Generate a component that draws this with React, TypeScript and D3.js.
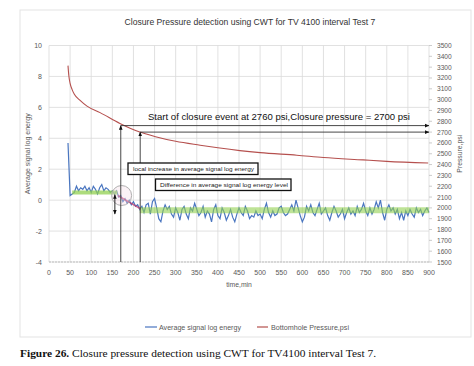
import React from "react";
import * as d3 from "d3";

const title = "Closure Pressure detection using CWT for TV 4100 interval Test 7";
const xTicks = [0, 50, 100, 150, 200, 250, 300, 350, 400, 450, 500, 550, 600, 650, 700, 750, 800, 850, 900];
const leftTicks = [-4, -2, 0, 2, 4, 6, 8, 10];
const rightTicks = [1500, 1600, 1700, 1800, 1900, 2000, 2100, 2200, 2300, 2400, 2500, 2600, 2700, 2800, 2900, 3000, 3100, 3200, 3300, 3400, 3500];

const signalTime = [
  45, 50, 55, 60, 65, 70, 75, 80, 85, 90, 95, 100, 105, 110, 115, 120, 125, 130, 135, 140, 145, 150, 155, 160, 165, 170,
  175, 180, 185, 190, 195, 200, 205, 210, 215, 220, 225, 230, 235, 240, 245, 250, 255, 260, 265, 270, 275, 280, 285, 290,
  295, 300, 305, 310, 315, 320, 325, 330, 335, 340, 345, 350, 355, 360, 365, 370, 375, 380, 385, 390, 395, 400, 405, 410,
  415, 420, 425, 430, 435, 440, 445, 450, 455, 460, 465, 470, 475, 480, 485, 490, 495, 500, 505, 510, 515, 520, 525, 530,
  535, 540, 545, 550, 555, 560, 565, 570, 575, 580, 585, 590, 595, 600, 605, 610, 615, 620, 625, 630, 635, 640, 645, 650,
  655, 660, 665, 670, 675, 680, 685, 690, 695, 700, 705, 710, 715, 720, 725, 730, 735, 740, 745, 750, 755, 760, 765, 770,
  775, 780, 785, 790, 795, 800, 805, 810, 815, 820, 825, 830, 835, 840, 845, 850, 855, 860, 865, 870, 875, 880, 885, 890,
  895, 900,
];
const signalEnergy = [
  3.7, 0.3, 0.4, 0.5, 0.9, 0.6, 0.8, 0.7, 0.9, 0.6, 0.8, 0.5, 0.9, 0.7, 0.4, 0.8, 1.0, 0.6, 0.8, 0.7, 0.5, 0.6, 0.4, 0.6, 0.2, 0.3,
  -0.1, 0.1, -0.2, 0.0, -0.3, -0.1, -0.4, -0.3, -0.6, -0.4, -0.8, -0.3, -0.2, -0.9, -0.1, 0.1, -0.5, -1.2, -1.4, -0.7, -0.3, -0.6, -0.4, -0.9,
  -1.1, -0.5, -0.8, -1.3, -0.6, -0.4, -0.9, -1.2, -0.5, -0.7, -0.2, -0.6, -1.0, -0.8, -0.4, -1.1, -0.7, -0.9, -1.4, -0.6, -0.3, -1.0, -1.2, -0.5,
  -0.8, -1.3, -1.0, -0.6, -1.1, -1.4, -0.9, -0.5, -0.8, -1.0, -0.4, -0.7, -1.2, -1.0, -1.1, -0.7, -1.0, -0.9, -1.2, -0.6, -0.2, -0.8, -1.1, -0.7,
  -1.0, -0.9, -0.5, -0.4, -0.8, -1.0, -0.9, -0.6, -0.3, -0.7, 0.0, -0.5, -1.0, -1.4, -1.1, -0.4, -0.7, -0.3, -0.8, -1.0, -0.6, -0.2, -0.9, -0.7,
  -0.5, -1.0, -1.3, -0.8, -0.4, -0.7, -1.1, -0.9, -0.6, -1.2, -0.8, -0.5, -0.9, -0.7, -1.0, -0.4, -0.8, -0.6, -0.2, -0.7, -1.0, -0.5, -0.9, -0.6,
  -0.1, -0.5, 0.0, -0.8, -1.3, -0.6, -0.3, -0.7, -0.5, -0.9, -0.6, -1.2, -0.8, -1.3, -0.7, -1.0, -0.6, -0.9, -1.1, -0.5, -0.8, -0.6, -1.0, -0.7,
  -0.5, -0.8,
];

const pressureTime = [45, 47, 50, 55, 60, 73, 90, 121, 168, 215, 250, 300, 358, 400, 452, 500, 587, 650, 744, 800, 898];
const pressurePsi = [3314, 3220, 3150, 3090, 3050, 2995, 2940, 2880, 2780, 2700, 2660, 2615, 2579, 2555, 2529, 2510, 2486, 2465, 2443, 2430, 2414];

// annotation values
const closureStart = { t: 170, psi: 2760 };
const closurePsi = { t: 216, psi: 2700 };
const levelBefore = { t0: 55, t1: 162, v: 0.5 };
const levelAfter = { t0: 215, t1: 900, v: -0.65 };
const dropLine = { t0: 163, v0: 0.3, t1: 216, v1: -0.55 };
const circleAt = { t: 172, v: 0.3 };
const diffArrow = { t: 156, v0: 0.35, v1: -0.9 };

export default function App() {
  const W = 474, H = 366;
  const x = d3.scaleLinear().domain([0, 900]).range([49, 429]);
  const yL = d3.scaleLinear().domain([-4, 10]).range([262, 45.5]);
  const yR = d3.scaleLinear().domain([1500, 3500]).range([262, 45.5]);

  const sigLine = d3.line<number>().x((_, i) => x(signalTime[i])).y((v) => yL(v));
  const presLine = d3.line<number>().x((_, i) => x(pressureTime[i])).y((v) => yR(v)).curve(d3.curveMonotoneX);

  const font = "'Liberation Sans', Arial, sans-serif";
  const grid = "#d9d9d9";
  const tickColor = "#595959";

  return (
    <svg width={W} height={H} style={{ position: "absolute", left: 0, top: 0, background: "#fff" }} fontFamily={font}>
      <defs>
        <marker id="ah" viewBox="0 0 10 10" refX="9" refY="5" markerWidth="5" markerHeight="5" orient="auto-start-reverse">
          <path d="M0,1 L10,5 L0,9 z" fill="#111" />
        </marker>
      </defs>
      <rect x={0} y={0} width={W} height={H} fill="#fff" />
      <rect x={20} y={10} width={451} height={327} fill="#fff" stroke="#e3e3e3" strokeWidth={1} />
      <text x={250} y={25} textAnchor="middle" fontSize={8.6} fill="#333">{title}</text>

      {/* grid */}
      {xTicks.map((t) => (
        <line key={"gx" + t} x1={x(t)} x2={x(t)} y1={yL(10)} y2={yL(-4)} stroke={grid} strokeWidth={0.8} />
      ))}
      {leftTicks.map((v) => (
        <line key={"gy" + v} x1={x(0)} x2={x(900)} y1={yL(v)} y2={yL(v)} stroke={grid} strokeWidth={0.8} />
      ))}
      <line x1={x(0)} x2={x(900)} y1={yL(-4)} y2={yL(-4)} stroke="#bfbfbf" strokeWidth={1} strokeDasharray="2,1" />
      {rightTicks.map((p) => (
        <line key={"rt" + p} x1={x(900)} x2={x(900) + 3} y1={yR(p)} y2={yR(p)} stroke="#bfbfbf" strokeWidth={0.8} />
      ))}

      {/* tick labels */}
      {leftTicks.map((v) => (
        <text key={"lt" + v} x={42} y={yL(v) + 2.5} textAnchor="end" fontSize={7} fill={tickColor}>{v}</text>
      ))}
      {rightTicks.map((p) => (
        <text key={"rl" + p} x={437} y={yR(p) + 2.5} fontSize={6.6} fill={tickColor}>{p}</text>
      ))}
      {xTicks.map((t) => (
        <text key={"xl" + t} x={x(t)} y={275} textAnchor="middle" fontSize={7} fill={tickColor}>{t}</text>
      ))}
      <text x={239} y={287} textAnchor="middle" fontSize={6.8} fill={tickColor}>time,min</text>
      <text transform={`translate(30,${yL(3)}) rotate(-90)`} textAnchor="middle" fontSize={7} fill={tickColor}>Average signal log energy</text>
      <text transform={`translate(462,${yL(3)}) rotate(-90)`} textAnchor="middle" fontSize={6.8} fill={tickColor}>Pressure,psi</text>

      {/* series */}
      <path d={presLine(pressurePsi) || ""} fill="none" stroke="#b5504e" strokeWidth={1.1} />
      <path d={sigLine(signalEnergy) || ""} fill="none" stroke="#4a76c0" strokeWidth={1.2} />

      {/* annotations */}
      <line x1={x(levelBefore.t0)} x2={x(levelBefore.t1)} y1={yL(levelBefore.v)} y2={yL(levelBefore.v)} stroke="#92d050" strokeOpacity={0.75} strokeWidth={4} />
      <line x1={x(levelAfter.t0)} x2={x(levelAfter.t1)} y1={yL(levelAfter.v)} y2={yL(levelAfter.v)} stroke="#92d050" strokeOpacity={0.6} strokeWidth={6} />
      <line x1={x(dropLine.t0)} x2={x(dropLine.t1)} y1={yL(dropLine.v0)} y2={yL(dropLine.v1)} stroke="#c0396b" strokeOpacity={0.75} strokeWidth={1.6} />
      <circle cx={x(circleAt.t)} cy={yL(circleAt.v)} r={10} fill="#f4dbe6" fillOpacity={0.35} stroke="#a6a6a6" strokeWidth={0.9} />
      <line x1={x(diffArrow.t)} x2={x(diffArrow.t)} y1={yL(diffArrow.v0)} y2={yL(diffArrow.v1)} stroke="#111" strokeWidth={0.9} markerStart="url(#ah)" markerEnd="url(#ah)" />

      <line x1={x(closureStart.t)} x2={x(closureStart.t)} y1={yL(-4)} y2={yR(closureStart.psi)} stroke="#333" strokeWidth={0.9} markerEnd="url(#ah)" />
      <line x1={x(closurePsi.t)} x2={x(closurePsi.t)} y1={yL(-4)} y2={yR(closurePsi.psi)} stroke="#333" strokeWidth={0.9} markerEnd="url(#ah)" />
      <line x1={x(closureStart.t)} x2={x(900)} y1={yR(closureStart.psi)} y2={yR(closureStart.psi)} stroke="#333" strokeWidth={0.9} markerEnd="url(#ah)" />
      <line x1={x(closurePsi.t)} x2={x(900)} y1={yR(closurePsi.psi)} y2={yR(closurePsi.psi)} stroke="#333" strokeWidth={0.9} markerEnd="url(#ah)" />
      <text x={148} y={119.5} fontSize={9.6} fill="#111" textLength={262} lengthAdjust="spacingAndGlyphs">Start of closure event at 2760 psi,Closure pressure = 2700 psi</text>

      <rect x={128} y={163} width={130} height={11.5} fill="#fff" stroke="#111" strokeWidth={1.3} />
      <text x={133} y={171} fontSize={6.2} fill="#222" textLength={121} lengthAdjust="spacingAndGlyphs">local increase in average signal log energy</text>
      <rect x={155.5} y={179} width={135.5} height={11.5} fill="#fff" stroke="#111" strokeWidth={1.3} />
      <text x={160} y={187.3} fontSize={6.2} fill="#222" textLength={128} lengthAdjust="spacingAndGlyphs">Difference in average signal log energy level</text>

      {/* legend */}
      <line x1={145} x2={157} y1={327} y2={327} stroke="#4a76c0" strokeWidth={1.2} />
      <text x={159} y={329.5} fontSize={6.8} fill={tickColor} textLength={82} lengthAdjust="spacingAndGlyphs">Average signal log energy</text>
      <line x1={257} x2={268} y1={327} y2={327} stroke="#b5504e" strokeWidth={1.2} />
      <text x={271} y={329.5} fontSize={6.8} fill={tickColor} textLength={78} lengthAdjust="spacingAndGlyphs">Bottomhole Pressure,psi</text>

      {/* caption */}
      <text x={20} y={357} fontFamily="'Liberation Serif', 'Times New Roman', serif" fontSize={11} fill="#111" textLength={356} lengthAdjust="spacingAndGlyphs">
        <tspan fontWeight="bold">Figure 26.</tspan>
        <tspan> Closure pressure detection using CWT for TV4100 interval Test 7.</tspan>
      </text>
    </svg>
  );
}
